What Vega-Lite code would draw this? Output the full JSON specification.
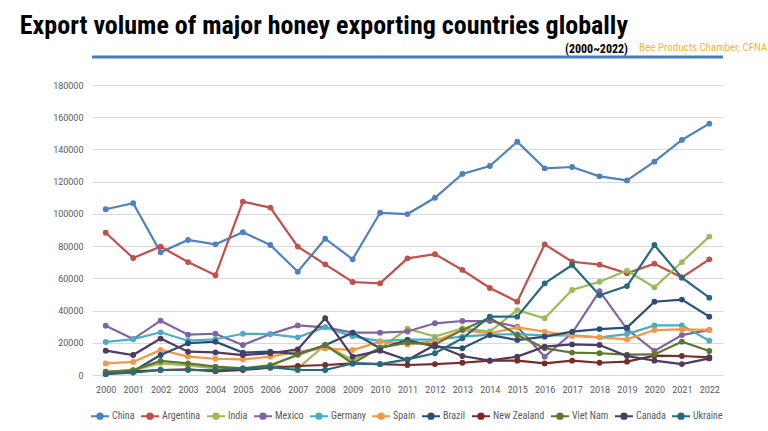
{
  "$schema": "https://vega.github.io/schema/vega-lite/v6.json",
  "autosize": {"type": "none"},
  "width": 631,
  "height": 290,
  "padding": {"left": 92, "top": 85, "right": 45, "bottom": 56},
  "background": "white",
  "title": {
    "text": "Export volume of major honey exporting countries globally",
    "subtitle": "(2000~2022)",
    "anchor": "end",
    "frame": "group",
    "dx": -95,
    "offset": -13,
    "font": "Roboto Condensed, Liberation Sans Narrow, Roboto, sans-serif",
    "fontSize": 26,
    "fontWeight": "bold",
    "color": "#000000",
    "subtitleFont": "Roboto Condensed, Liberation Sans Narrow, Roboto, sans-serif",
    "subtitleFontSize": 12,
    "subtitleFontWeight": "bold",
    "subtitleColor": "#000000",
    "subtitlePadding": 5
  },
  "data": {
    "values": [
      {"country": "China", "year": "2000", "value": 102900},
      {"country": "China", "year": "2001", "value": 106600},
      {"country": "China", "year": "2002", "value": 76200},
      {"country": "China", "year": "2003", "value": 83800},
      {"country": "China", "year": "2004", "value": 81100},
      {"country": "China", "year": "2005", "value": 88600},
      {"country": "China", "year": "2006", "value": 80700},
      {"country": "China", "year": "2007", "value": 64100},
      {"country": "China", "year": "2008", "value": 84600},
      {"country": "China", "year": "2009", "value": 71800},
      {"country": "China", "year": "2010", "value": 100700},
      {"country": "China", "year": "2011", "value": 99900},
      {"country": "China", "year": "2012", "value": 110000},
      {"country": "China", "year": "2013", "value": 124800},
      {"country": "China", "year": "2014", "value": 129700},
      {"country": "China", "year": "2015", "value": 144800},
      {"country": "China", "year": "2016", "value": 128300},
      {"country": "China", "year": "2017", "value": 129100},
      {"country": "China", "year": "2018", "value": 123300},
      {"country": "China", "year": "2019", "value": 120800},
      {"country": "China", "year": "2020", "value": 132400},
      {"country": "China", "year": "2021", "value": 145900},
      {"country": "China", "year": "2022", "value": 156000},
      {"country": "Argentina", "year": "2000", "value": 88300},
      {"country": "Argentina", "year": "2001", "value": 72600},
      {"country": "Argentina", "year": "2002", "value": 79700},
      {"country": "Argentina", "year": "2003", "value": 70100},
      {"country": "Argentina", "year": "2004", "value": 61900},
      {"country": "Argentina", "year": "2005", "value": 107600},
      {"country": "Argentina", "year": "2006", "value": 103900},
      {"country": "Argentina", "year": "2007", "value": 79700},
      {"country": "Argentina", "year": "2008", "value": 68700},
      {"country": "Argentina", "year": "2009", "value": 57700},
      {"country": "Argentina", "year": "2010", "value": 56900},
      {"country": "Argentina", "year": "2011", "value": 72400},
      {"country": "Argentina", "year": "2012", "value": 75000},
      {"country": "Argentina", "year": "2013", "value": 65200},
      {"country": "Argentina", "year": "2014", "value": 54000},
      {"country": "Argentina", "year": "2015", "value": 45500},
      {"country": "Argentina", "year": "2016", "value": 81100},
      {"country": "Argentina", "year": "2017", "value": 70300},
      {"country": "Argentina", "year": "2018", "value": 68500},
      {"country": "Argentina", "year": "2019", "value": 63100},
      {"country": "Argentina", "year": "2020", "value": 69100},
      {"country": "Argentina", "year": "2021", "value": 60600},
      {"country": "Argentina", "year": "2022", "value": 71800},
      {"country": "India", "year": "2000", "value": 2000},
      {"country": "India", "year": "2001", "value": 3000},
      {"country": "India", "year": "2002", "value": 7200},
      {"country": "India", "year": "2003", "value": 6000},
      {"country": "India", "year": "2004", "value": 4100},
      {"country": "India", "year": "2005", "value": 3500},
      {"country": "India", "year": "2006", "value": 6200},
      {"country": "India", "year": "2007", "value": 4100},
      {"country": "India", "year": "2008", "value": 18600},
      {"country": "India", "year": "2009", "value": 9300},
      {"country": "India", "year": "2010", "value": 16600},
      {"country": "India", "year": "2011", "value": 28700},
      {"country": "India", "year": "2012", "value": 23800},
      {"country": "India", "year": "2013", "value": 29000},
      {"country": "India", "year": "2014", "value": 27000},
      {"country": "India", "year": "2015", "value": 40300},
      {"country": "India", "year": "2016", "value": 35200},
      {"country": "India", "year": "2017", "value": 52800},
      {"country": "India", "year": "2018", "value": 57900},
      {"country": "India", "year": "2019", "value": 64800},
      {"country": "India", "year": "2020", "value": 54400},
      {"country": "India", "year": "2021", "value": 70100},
      {"country": "India", "year": "2022", "value": 85900},
      {"country": "Mexico", "year": "2000", "value": 30600},
      {"country": "Mexico", "year": "2001", "value": 22300},
      {"country": "Mexico", "year": "2002", "value": 33700},
      {"country": "Mexico", "year": "2003", "value": 25000},
      {"country": "Mexico", "year": "2004", "value": 25600},
      {"country": "Mexico", "year": "2005", "value": 18600},
      {"country": "Mexico", "year": "2006", "value": 25400},
      {"country": "Mexico", "year": "2007", "value": 30800},
      {"country": "Mexico", "year": "2008", "value": 29600},
      {"country": "Mexico", "year": "2009", "value": 26300},
      {"country": "Mexico", "year": "2010", "value": 26300},
      {"country": "Mexico", "year": "2011", "value": 27000},
      {"country": "Mexico", "year": "2012", "value": 32100},
      {"country": "Mexico", "year": "2013", "value": 33500},
      {"country": "Mexico", "year": "2014", "value": 33500},
      {"country": "Mexico", "year": "2015", "value": 30000},
      {"country": "Mexico", "year": "2016", "value": 11400},
      {"country": "Mexico", "year": "2017", "value": 26000},
      {"country": "Mexico", "year": "2018", "value": 52000},
      {"country": "Mexico", "year": "2019", "value": 28500},
      {"country": "Mexico", "year": "2020", "value": 15000},
      {"country": "Mexico", "year": "2021", "value": 24800},
      {"country": "Mexico", "year": "2022", "value": 28000},
      {"country": "Germany", "year": "2000", "value": 20500},
      {"country": "Germany", "year": "2001", "value": 22300},
      {"country": "Germany", "year": "2002", "value": 26500},
      {"country": "Germany", "year": "2003", "value": 21300},
      {"country": "Germany", "year": "2004", "value": 22200},
      {"country": "Germany", "year": "2005", "value": 25600},
      {"country": "Germany", "year": "2006", "value": 25400},
      {"country": "Germany", "year": "2007", "value": 23400},
      {"country": "Germany", "year": "2008", "value": 29700},
      {"country": "Germany", "year": "2009", "value": 24000},
      {"country": "Germany", "year": "2010", "value": 21000},
      {"country": "Germany", "year": "2011", "value": 22000},
      {"country": "Germany", "year": "2012", "value": 22000},
      {"country": "Germany", "year": "2013", "value": 23800},
      {"country": "Germany", "year": "2014", "value": 25000},
      {"country": "Germany", "year": "2015", "value": 25400},
      {"country": "Germany", "year": "2016", "value": 24600},
      {"country": "Germany", "year": "2017", "value": 24600},
      {"country": "Germany", "year": "2018", "value": 23400},
      {"country": "Germany", "year": "2019", "value": 25400},
      {"country": "Germany", "year": "2020", "value": 30800},
      {"country": "Germany", "year": "2021", "value": 30800},
      {"country": "Germany", "year": "2022", "value": 21300},
      {"country": "Spain", "year": "2000", "value": 7200},
      {"country": "Spain", "year": "2001", "value": 8100},
      {"country": "Spain", "year": "2002", "value": 15500},
      {"country": "Spain", "year": "2003", "value": 11400},
      {"country": "Spain", "year": "2004", "value": 10100},
      {"country": "Spain", "year": "2005", "value": 9700},
      {"country": "Spain", "year": "2006", "value": 11400},
      {"country": "Spain", "year": "2007", "value": 14500},
      {"country": "Spain", "year": "2008", "value": 16500},
      {"country": "Spain", "year": "2009", "value": 15500},
      {"country": "Spain", "year": "2010", "value": 20700},
      {"country": "Spain", "year": "2011", "value": 19000},
      {"country": "Spain", "year": "2012", "value": 21000},
      {"country": "Spain", "year": "2013", "value": 27900},
      {"country": "Spain", "year": "2014", "value": 25900},
      {"country": "Spain", "year": "2015", "value": 29600},
      {"country": "Spain", "year": "2016", "value": 26900},
      {"country": "Spain", "year": "2017", "value": 24200},
      {"country": "Spain", "year": "2018", "value": 23400},
      {"country": "Spain", "year": "2019", "value": 22100},
      {"country": "Spain", "year": "2020", "value": 27900},
      {"country": "Spain", "year": "2021", "value": 28300},
      {"country": "Spain", "year": "2022", "value": 28000},
      {"country": "Brazil", "year": "2000", "value": 600},
      {"country": "Brazil", "year": "2001", "value": 2300},
      {"country": "Brazil", "year": "2002", "value": 12400},
      {"country": "Brazil", "year": "2003", "value": 19700},
      {"country": "Brazil", "year": "2004", "value": 20700},
      {"country": "Brazil", "year": "2005", "value": 13900},
      {"country": "Brazil", "year": "2006", "value": 14500},
      {"country": "Brazil", "year": "2007", "value": 13000},
      {"country": "Brazil", "year": "2008", "value": 18500},
      {"country": "Brazil", "year": "2009", "value": 26300},
      {"country": "Brazil", "year": "2010", "value": 16600},
      {"country": "Brazil", "year": "2011", "value": 21700},
      {"country": "Brazil", "year": "2012", "value": 17600},
      {"country": "Brazil", "year": "2013", "value": 16600},
      {"country": "Brazil", "year": "2014", "value": 24800},
      {"country": "Brazil", "year": "2015", "value": 21700},
      {"country": "Brazil", "year": "2016", "value": 23800},
      {"country": "Brazil", "year": "2017", "value": 26900},
      {"country": "Brazil", "year": "2018", "value": 28500},
      {"country": "Brazil", "year": "2019", "value": 29400},
      {"country": "Brazil", "year": "2020", "value": 45500},
      {"country": "Brazil", "year": "2021", "value": 46800},
      {"country": "Brazil", "year": "2022", "value": 36200},
      {"country": "New Zealand", "year": "2000", "value": 1400},
      {"country": "New Zealand", "year": "2001", "value": 2300},
      {"country": "New Zealand", "year": "2002", "value": 3100},
      {"country": "New Zealand", "year": "2003", "value": 3500},
      {"country": "New Zealand", "year": "2004", "value": 2300},
      {"country": "New Zealand", "year": "2005", "value": 3100},
      {"country": "New Zealand", "year": "2006", "value": 4500},
      {"country": "New Zealand", "year": "2007", "value": 5600},
      {"country": "New Zealand", "year": "2008", "value": 6200},
      {"country": "New Zealand", "year": "2009", "value": 7200},
      {"country": "New Zealand", "year": "2010", "value": 6800},
      {"country": "New Zealand", "year": "2011", "value": 6200},
      {"country": "New Zealand", "year": "2012", "value": 6800},
      {"country": "New Zealand", "year": "2013", "value": 7600},
      {"country": "New Zealand", "year": "2014", "value": 8900},
      {"country": "New Zealand", "year": "2015", "value": 8900},
      {"country": "New Zealand", "year": "2016", "value": 7200},
      {"country": "New Zealand", "year": "2017", "value": 8900},
      {"country": "New Zealand", "year": "2018", "value": 7600},
      {"country": "New Zealand", "year": "2019", "value": 8300},
      {"country": "New Zealand", "year": "2020", "value": 12000},
      {"country": "New Zealand", "year": "2021", "value": 11800},
      {"country": "New Zealand", "year": "2022", "value": 11000},
      {"country": "Viet Nam", "year": "2000", "value": 2000},
      {"country": "Viet Nam", "year": "2001", "value": 3000},
      {"country": "Viet Nam", "year": "2002", "value": 8700},
      {"country": "Viet Nam", "year": "2003", "value": 7200},
      {"country": "Viet Nam", "year": "2004", "value": 5200},
      {"country": "Viet Nam", "year": "2005", "value": 4100},
      {"country": "Viet Nam", "year": "2006", "value": 6000},
      {"country": "Viet Nam", "year": "2007", "value": 12500},
      {"country": "Viet Nam", "year": "2008", "value": 18600},
      {"country": "Viet Nam", "year": "2009", "value": 7200},
      {"country": "Viet Nam", "year": "2010", "value": 17000},
      {"country": "Viet Nam", "year": "2011", "value": 20000},
      {"country": "Viet Nam", "year": "2012", "value": 19000},
      {"country": "Viet Nam", "year": "2013", "value": 28000},
      {"country": "Viet Nam", "year": "2014", "value": 35500},
      {"country": "Viet Nam", "year": "2015", "value": 24800},
      {"country": "Viet Nam", "year": "2016", "value": 16600},
      {"country": "Viet Nam", "year": "2017", "value": 13900},
      {"country": "Viet Nam", "year": "2018", "value": 13500},
      {"country": "Viet Nam", "year": "2019", "value": 12600},
      {"country": "Viet Nam", "year": "2020", "value": 12800},
      {"country": "Viet Nam", "year": "2021", "value": 20700},
      {"country": "Viet Nam", "year": "2022", "value": 14900},
      {"country": "Canada", "year": "2000", "value": 15100},
      {"country": "Canada", "year": "2001", "value": 12400},
      {"country": "Canada", "year": "2002", "value": 22600},
      {"country": "Canada", "year": "2003", "value": 14500},
      {"country": "Canada", "year": "2004", "value": 14000},
      {"country": "Canada", "year": "2005", "value": 12400},
      {"country": "Canada", "year": "2006", "value": 13500},
      {"country": "Canada", "year": "2007", "value": 15900},
      {"country": "Canada", "year": "2008", "value": 35200},
      {"country": "Canada", "year": "2009", "value": 11400},
      {"country": "Canada", "year": "2010", "value": 15100},
      {"country": "Canada", "year": "2011", "value": 9300},
      {"country": "Canada", "year": "2012", "value": 18600},
      {"country": "Canada", "year": "2013", "value": 11800},
      {"country": "Canada", "year": "2014", "value": 8900},
      {"country": "Canada", "year": "2015", "value": 11400},
      {"country": "Canada", "year": "2016", "value": 17600},
      {"country": "Canada", "year": "2017", "value": 19000},
      {"country": "Canada", "year": "2018", "value": 18600},
      {"country": "Canada", "year": "2019", "value": 11800},
      {"country": "Canada", "year": "2020", "value": 8900},
      {"country": "Canada", "year": "2021", "value": 6800},
      {"country": "Canada", "year": "2022", "value": 10300},
      {"country": "Ukraine", "year": "2000", "value": 500},
      {"country": "Ukraine", "year": "2001", "value": 1500},
      {"country": "Ukraine", "year": "2002", "value": 3100},
      {"country": "Ukraine", "year": "2003", "value": 3100},
      {"country": "Ukraine", "year": "2004", "value": 3100},
      {"country": "Ukraine", "year": "2005", "value": 4100},
      {"country": "Ukraine", "year": "2006", "value": 4800},
      {"country": "Ukraine", "year": "2007", "value": 3100},
      {"country": "Ukraine", "year": "2008", "value": 3100},
      {"country": "Ukraine", "year": "2009", "value": 7200},
      {"country": "Ukraine", "year": "2010", "value": 6700},
      {"country": "Ukraine", "year": "2011", "value": 9700},
      {"country": "Ukraine", "year": "2012", "value": 13500},
      {"country": "Ukraine", "year": "2013", "value": 22800},
      {"country": "Ukraine", "year": "2014", "value": 36200},
      {"country": "Ukraine", "year": "2015", "value": 36200},
      {"country": "Ukraine", "year": "2016", "value": 56900},
      {"country": "Ukraine", "year": "2017", "value": 68300},
      {"country": "Ukraine", "year": "2018", "value": 49500},
      {"country": "Ukraine", "year": "2019", "value": 55200},
      {"country": "Ukraine", "year": "2020", "value": 80700},
      {"country": "Ukraine", "year": "2021", "value": 60400},
      {"country": "Ukraine", "year": "2022", "value": 48000}
    ]
  },
  "layer": [
    {
      "mark": {
        "type": "line",
        "strokeWidth": 2.2,
        "point": {"filled": true, "size": 34}
      },
      "encoding": {
        "x": {
          "field": "year",
          "type": "ordinal",
          "scale": {"padding": 0.5},
          "axis": {
            "title": null,
            "labelAngle": 0,
            "labelFont": "Roboto",
            "labelFontSize": 9,
            "labelColor": "#595959",
            "labelPadding": 10,
            "labelOverlap": false,
            "domain": false,
            "ticks": false,
            "grid": false
          }
        },
        "y": {
          "field": "value",
          "type": "quantitative",
          "scale": {"domain": [0, 180000], "nice": false},
          "axis": {
            "title": null,
            "values": [0, 20000, 40000, 60000, 80000, 100000, 120000, 140000, 160000, 180000],
            "tickCount": 10,
            "format": "d",
            "labelOverlap": false,
            "labelBound": false,
            "labelFont": "Roboto",
            "labelFontSize": 9,
            "labelColor": "#595959",
            "labelPadding": 9,
            "domain": false,
            "ticks": false,
            "grid": true,
            "gridColor": "#D9D9D9",
            "gridWidth": 1
          }
        },
        "color": {
          "field": "country",
          "type": "nominal",
          "scale": {
            "domain": ["China", "Argentina", "India", "Mexico", "Germany", "Spain", "Brazil", "New Zealand", "Viet Nam", "Canada", "Ukraine"],
            "range": ["#4F81BD", "#C0504D", "#9BBB59", "#8064A2", "#4BACC6", "#F79646", "#2C4D75", "#772C2A", "#5F7530", "#4D3B62", "#276A7C"]
          },
          "legend": {
            "title": null,
            "orient": "none",
            "legendX": -2,
            "legendY": 321,
            "direction": "horizontal",
            "columns": 11,
            "symbolType": "M-1,0L1,0M-0.3,0A0.3,0.3 0 1,1 0.3,0A0.3,0.3 0 1,1 -0.3,0",
            "symbolSize": 324,
            "symbolStrokeWidth": 2,
            "labelFont": "Roboto Condensed, Liberation Sans Narrow, Roboto, sans-serif",
            "labelFontSize": 10,
            "labelColor": "#595959",
            "labelOffset": 2,
            "columnPadding": 2
          }
        },
        "order": {"field": "year"}
      }
    },
    {
      "mark": {"type": "rule", "stroke": "#4A7EBB", "strokeWidth": 3, "clip": false},
      "data": {"values": [{}]},
      "encoding": {
        "y": {
          "datum": 197400,
          "type": "quantitative",
          "axis": {
            "title": null,
            "values": [0, 20000, 40000, 60000, 80000, 100000, 120000, 140000, 160000, 180000],
            "tickCount": 10,
            "format": "d",
            "labelOverlap": false,
            "labelBound": false,
            "labelFont": "Roboto",
            "labelFontSize": 9,
            "labelColor": "#595959",
            "labelPadding": 9,
            "domain": false,
            "ticks": false,
            "grid": true,
            "gridColor": "#D9D9D9",
            "gridWidth": 1
          }
        }
      }
    },
    {
      "mark": {
        "type": "text",
        "align": "right",
        "baseline": "middle",
        "dx": 58,
        "font": "Roboto Condensed, Liberation Sans Narrow, Roboto, sans-serif",
        "fontSize": 11,
        "color": "#F5B82E",
        "clip": false
      },
      "data": {"values": [{"label": "Bee Products Chamber, CFNA"}]},
      "encoding": {
        "x": {
          "datum": "2022",
          "type": "ordinal",
          "axis": {
            "title": null,
            "labelAngle": 0,
            "labelFont": "Roboto",
            "labelFontSize": 9,
            "labelColor": "#595959",
            "labelPadding": 10,
            "labelOverlap": false,
            "domain": false,
            "ticks": false,
            "grid": false
          }
        },
        "y": {
          "datum": 203000,
          "type": "quantitative",
          "axis": {
            "title": null,
            "values": [0, 20000, 40000, 60000, 80000, 100000, 120000, 140000, 160000, 180000],
            "tickCount": 10,
            "format": "d",
            "labelOverlap": false,
            "labelBound": false,
            "labelFont": "Roboto",
            "labelFontSize": 9,
            "labelColor": "#595959",
            "labelPadding": 9,
            "domain": false,
            "ticks": false,
            "grid": true,
            "gridColor": "#D9D9D9",
            "gridWidth": 1
          }
        },
        "text": {"field": "label"}
      }
    }
  ],
  "config": {
    "view": {"stroke": null}
  }
}
